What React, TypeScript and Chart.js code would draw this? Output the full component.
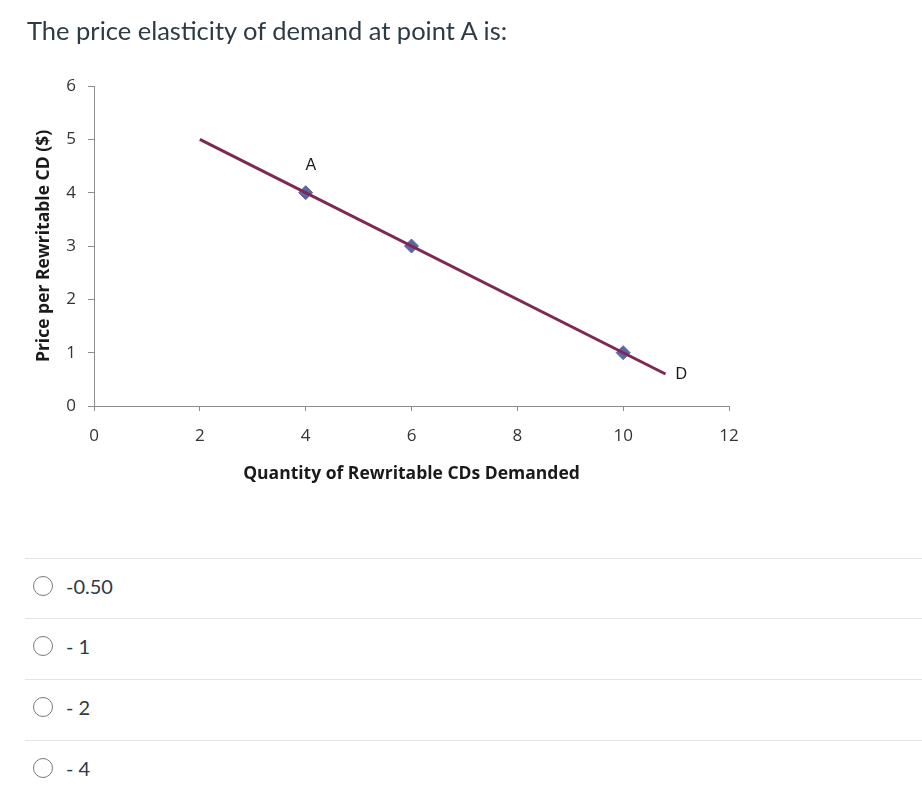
import React, { useEffect, useRef } from 'react';
import { Chart, registerables } from 'chart.js';

Chart.register(...registerables);

const questionText = 'The price elasticity of demand at point A is:';
const answerOptions = ['-0.50', '- 1', '- 2', '- 4'];

const xAxisTitle = 'Quantity of Rewritable CDs Demanded';
const yAxisTitle = 'Price per Rewritable CD ($)';

// demand curve D (end points)
const curveQuantity = [2, 10.8];
const curvePrice = [5, 0.6];
// marked points
const pointQuantity = [4, 6, 10];
const pointPrice = [4, 3, 1];
// point labels
const labelTexts = ['A', 'D'];
const labelQuantity = [4.1, 11.1];
const labelPrice = [4.5, 0.58];

const xTicks = [0, 2, 4, 6, 8, 10, 12];
const yTicks = [0, 1, 2, 3, 4, 5, 6];

const TEXT = '#2d3b45';
const AXIS = '#8c8c8c';

const labelPlugin = {
  id: 'pointLabels',
  afterDatasetsDraw(chart: any) {
    const { ctx, scales } = chart;
    const x = scales.x;
    const y = scales.y;
    ctx.save();
    ctx.font = '16px "Liberation Sans", Arial, sans-serif';
    ctx.fillStyle = '#1a1a1a';
    ctx.textAlign = 'center';
    ctx.textBaseline = 'middle';
    labelTexts.forEach((t, i) => {
      ctx.fillText(t, x.getPixelForValue(labelQuantity[i]), y.getPixelForValue(labelPrice[i]));
    });
    ctx.restore();
  },
};

function DemandChart() {
  const ref = useRef<HTMLCanvasElement | null>(null);
  useEffect(() => {
    if (!ref.current) return;
    const tickFont = { family: '"Open Sans", sans-serif', size: 17 };
    const titleFont = { family: '"Open Sans", sans-serif', size: 17.5, weight: 'bold' as const, lineHeight: 1.2 };
    const chart = new Chart(ref.current, {
      type: 'scatter',
      data: {
        datasets: [
          {
            label: 'D',
            data: curveQuantity.map((q, i) => ({ x: q, y: curvePrice[i] })),
            showLine: true,
            borderColor: '#7f2850',
            borderWidth: 3,
            pointRadius: 0,
            fill: false,
          },
          {
            label: 'Points',
            data: pointQuantity.map((q, i) => ({ x: q, y: pointPrice[i] })),
            showLine: false,
            pointStyle: 'rectRot',
            pointRadius: 7,
            backgroundColor: '#5b68a3',
            borderColor: '#5b68a3',
            borderWidth: 1,
          },
        ],
      },
      options: {
        responsive: false,
        animation: false,
        events: [],
        layout: { padding: { left: 0, top: 86, right: 193, bottom: 0 } },
        plugins: { legend: { display: false }, tooltip: { enabled: false } },
        scales: {
          x: {
            type: 'linear',
            min: 0,
            max: 12,
            afterBuildTicks: (s: any) => {
              s.ticks = xTicks.map((v) => ({ value: v }));
            },
            afterFit: (s: any) => {
              s.height = 114;
            },
            border: { color: AXIS, width: 1 },
            grid: { drawOnChartArea: false, drawTicks: true, tickLength: 5, color: AXIS },
            ticks: { font: tickFont, color: '#333333', padding: 15, maxRotation: 0 },
            title: { display: true, text: xAxisTitle, font: titleFont, color: '#1a1a1a', padding: { top: 0, bottom: 35.5 } },
          },
          y: {
            type: 'linear',
            min: 0,
            max: 6,
            afterBuildTicks: (s: any) => {
              s.ticks = yTicks.map((v) => ({ value: v }));
            },
            afterFit: (s: any) => {
              s.width = 94;
            },
            border: { color: AXIS, width: 1 },
            grid: { drawOnChartArea: false, drawTicks: true, tickLength: 6, color: AXIS },
            ticks: { font: tickFont, color: '#333333', padding: 12 },
            title: { display: true, text: yAxisTitle, font: titleFont, color: '#1a1a1a', padding: { top: 33.5, bottom: 0 } },
          },
        },
      },
      plugins: [labelPlugin],
    });
    return () => chart.destroy();
  }, []);
  return (
    <canvas
      ref={ref}
      width={922}
      height={520}
      style={{ position: 'absolute', left: 0, top: 0, width: 922, height: 520, display: 'block' }}
    />
  );
}

export default function App() {
  const rowTop = [558, 618, 679, 740];
  return (
    <div>
      <DemandChart />
      <div
        style={{
          position: 'absolute',
          left: 27,
          top: 15,
          fontFamily: 'Lato, sans-serif',
          fontSize: 25.5,
          lineHeight: 'normal',
          color: TEXT,
          whiteSpace: 'nowrap',
        }}
      >
        {questionText}
      </div>
      {answerOptions.map((opt, i) => (
        <div
          key={opt}
          style={{
            position: 'absolute',
            left: 25,
            right: 0,
            top: rowTop[i],
            height: 54,
            borderTop: '1px solid #e2e4e6',
            display: 'flex',
            alignItems: 'center',
            fontFamily: 'Lato, sans-serif',
            fontSize: 20,
            color: TEXT,
          }}
        >
          <span
            style={{
              display: 'inline-block',
              boxSizing: 'border-box',
              width: 20,
              height: 20,
              borderRadius: '50%',
              border: '1px solid #7a7a7a',
              marginLeft: 8,
              marginRight: 13,
              background: '#fff',
            }}
          />
          <span>{opt}</span>
        </div>
      ))}
    </div>
  );
}
